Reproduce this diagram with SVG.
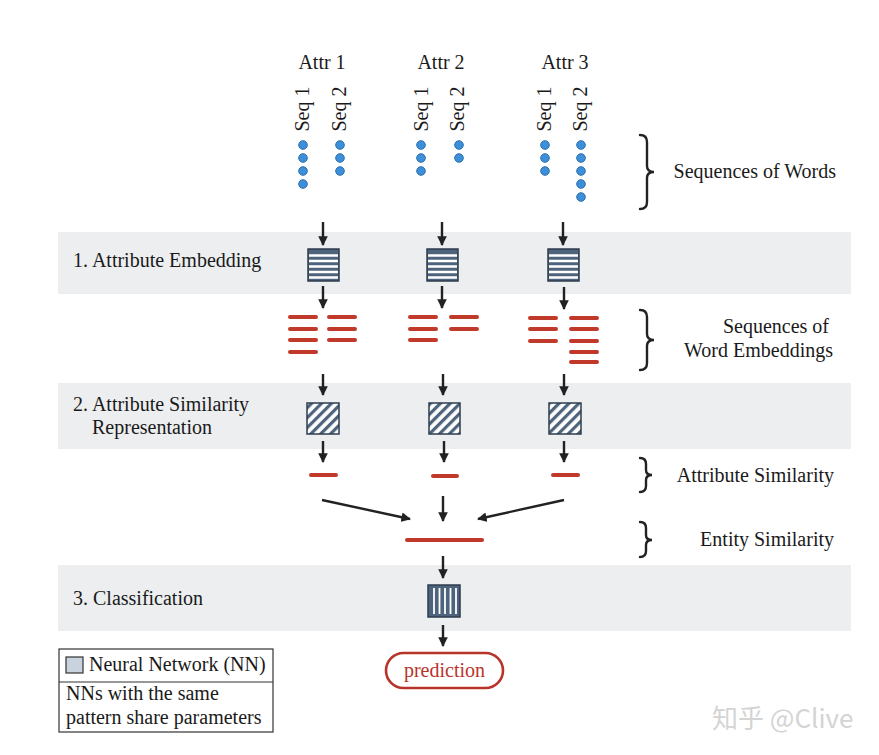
<svg xmlns="http://www.w3.org/2000/svg" width="879" height="755" viewBox="0 0 879 755">
<style>
text{font-family:"Liberation Serif","DejaVu Serif",serif;fill:#1a1a1a;font-size:20px}
.band{fill:#eceef0}
.arr{stroke:#222;stroke-width:2.4;fill:none;marker-end:url(#ah)}
.red{stroke:#c0392b;stroke-width:4;stroke-linecap:round;fill:none}
.dot{fill:#3d8fda;stroke:#2a6fb0;stroke-width:1}
.nn{fill:#4e647d;stroke:#2e3d4f;stroke-width:1.5}
.hatch{fill:url(#hp);stroke:#2e3d4f;stroke-width:1.5}
.ws{stroke:#fff;stroke-width:2.4}
.brace{stroke:#222;stroke-width:2.4;fill:none;stroke-linecap:round}
</style>
<defs>
<marker id="ah" viewBox="0 0 10 10" refX="9" refY="5" markerWidth="4" markerHeight="4" orient="auto" markerUnits="strokeWidth">
<path d="M0,0 L10,5 L0,10 z" fill="#222"/>
</marker>
<pattern id="hp" patternUnits="userSpaceOnUse" width="7" height="7" patternTransform="rotate(45)">
<rect width="7" height="7" fill="#fff"/>
<rect width="3.2" height="7" fill="#4e647d"/>
</pattern>
</defs>
<rect width="879" height="755" fill="#fff"/>
<g id="bands">
<rect class="band" x="58" y="232" width="793" height="62"/>
<rect class="band" x="58" y="383" width="793" height="66"/>
<rect class="band" x="58" y="565" width="793" height="66"/>
</g>
<g id="stage-labels">
<text x="73" y="267">1. Attribute Embedding</text>
<text x="73" y="411">2. Attribute Similarity</text>
<text x="92" y="434">Representation</text>
<text x="73" y="605">3. Classification</text>
</g>
<g id="attr-headers">
<text x="322" y="69" text-anchor="middle">Attr 1</text>
<text x="441" y="69" text-anchor="middle">Attr 2</text>
<text x="565" y="69" text-anchor="middle">Attr 3</text>
<text transform="translate(309,109) rotate(-90)" text-anchor="middle">Seq 1</text>
<text transform="translate(346,109) rotate(-90)" text-anchor="middle">Seq 2</text>
<text transform="translate(428,109) rotate(-90)" text-anchor="middle">Seq 1</text>
<text transform="translate(464,109) rotate(-90)" text-anchor="middle">Seq 2</text>
<text transform="translate(551,109) rotate(-90)" text-anchor="middle">Seq 1</text>
<text transform="translate(587,109) rotate(-90)" text-anchor="middle">Seq 2</text>
</g>
<g id="words">
<circle class="dot" cx="303" cy="145" r="4.3"/><circle class="dot" cx="303" cy="158" r="4.3"/><circle class="dot" cx="303" cy="171" r="4.3"/><circle class="dot" cx="303" cy="184" r="4.3"/>
<circle class="dot" cx="340" cy="145" r="4.3"/><circle class="dot" cx="340" cy="158" r="4.3"/><circle class="dot" cx="340" cy="171" r="4.3"/>
<circle class="dot" cx="421" cy="145" r="4.3"/><circle class="dot" cx="421" cy="158" r="4.3"/><circle class="dot" cx="421" cy="171" r="4.3"/>
<circle class="dot" cx="459" cy="145" r="4.3"/><circle class="dot" cx="459" cy="158" r="4.3"/>
<circle class="dot" cx="545" cy="145" r="4.3"/><circle class="dot" cx="545" cy="158" r="4.3"/><circle class="dot" cx="545" cy="171" r="4.3"/>
<circle class="dot" cx="581" cy="145" r="4.3"/><circle class="dot" cx="581" cy="158" r="4.3"/><circle class="dot" cx="581" cy="171" r="4.3"/><circle class="dot" cx="581" cy="184" r="4.3"/><circle class="dot" cx="581" cy="197" r="4.3"/>
</g>
<g id="embed-nn">
<g id="nn-embed-1"><rect class="nn" x="308" y="249" width="31" height="32"/><path class="ws" d="M309,255.5H338M309,261H338M309,266.5H338M309,272H338M309,277.5H338"/></g>
<g id="nn-embed-2"><rect class="nn" x="427" y="249" width="31" height="32"/><path class="ws" d="M428,255.5H457M428,261H457M428,266.5H457M428,272H457M428,277.5H457"/></g>
<g id="nn-embed-3"><rect class="nn" x="548" y="249" width="31" height="32"/><path class="ws" d="M549,255.5H578M549,261H578M549,266.5H578M549,272H578M549,277.5H578"/></g>
</g>
<g id="word-embeddings">
<path class="red" d="M290,317H316M290,329H316M290,340H316M290,352H316M329,317H355M329,329H355M329,340H355"/>
<path class="red" d="M410,317H436M410,329H436M410,340H436M451,317H477M451,329H477"/>
<path class="red" d="M530,318H556M530,329H556M530,341H556M571,318H597M571,329H597M571,341H597M571,352H597M571,362H597"/>
</g>
<g id="sim-nn">
<rect id="nn-sim-1" class="hatch" x="307" y="403" width="32" height="31"/>
<rect id="nn-sim-2" class="hatch" x="429" y="403" width="31" height="31"/>
<rect id="nn-sim-3" class="hatch" x="549" y="403" width="32" height="31"/>
</g>
<g id="attr-sim">
<path class="red" d="M311,475H336M433,476H457M553,475H578"/>
</g>
<g id="entity-sim">
<path class="red" d="M407,540H482"/>
</g>
<g id="classifier">
<rect class="nn" x="428" y="585" width="32" height="32"/>
<path class="ws" style="stroke-width:1.8" d="M434,588V614M439.5,588V614M445,588V614M450.5,588V614M456,588V614"/>
</g>
<g id="prediction">
<rect x="386" y="653" width="117" height="35" rx="17.5" fill="#fff" stroke="#b8342b" stroke-width="2.6"/>
<text x="444.5" y="677" text-anchor="middle" style="fill:#b8342b">prediction</text>
</g>
<g id="connectors">
<line class="arr" x1="323" y1="222" x2="323" y2="245"/>
<line class="arr" x1="442" y1="222" x2="442" y2="245"/>
<line class="arr" x1="563" y1="222" x2="563" y2="245"/>
<line class="arr" x1="323" y1="286" x2="323" y2="308"/>
<line class="arr" x1="442" y1="286" x2="442" y2="308"/>
<line class="arr" x1="564" y1="287" x2="564" y2="309"/>
<line class="arr" x1="323" y1="374" x2="323" y2="395"/>
<line class="arr" x1="443" y1="374" x2="443" y2="395"/>
<line class="arr" x1="564" y1="374" x2="564" y2="395"/>
<line class="arr" x1="323" y1="441" x2="323" y2="462"/>
<line class="arr" x1="444" y1="441" x2="444" y2="462"/>
<line class="arr" x1="564" y1="441" x2="564" y2="462"/>
<line class="arr" x1="322" y1="500" x2="410" y2="519"/>
<line class="arr" x1="443" y1="496" x2="443" y2="521"/>
<line class="arr" x1="564" y1="500" x2="478" y2="519"/>
<line class="arr" x1="443" y1="556" x2="443" y2="578"/>
<line class="arr" x1="443" y1="625" x2="443" y2="646"/>
</g>
<g id="annotations">
<path class="brace" d="M640,135 Q647,135 647,142 L647,166 Q647,172 654,172 Q647,172 647,178 L647,202 Q647,209 640,209"/>
<text x="836" y="178" text-anchor="end">Sequences of Words</text>
<path class="brace" d="M640,310 Q647,310 647,317 L647,334 Q647,340 654,340 Q647,340 647,346 L647,363 Q647,370 640,370"/>
<text x="829" y="333" text-anchor="end">Sequences of</text>
<text x="833" y="357" text-anchor="end">Word Embeddings</text>
<path class="brace" d="M640,458 Q646,458 646,464 L646,470 Q646,475 652,475 Q646,475 646,480 L646,486 Q646,492 640,492"/>
<text x="834" y="482" text-anchor="end">Attribute Similarity</text>
<path class="brace" d="M640,522 Q646,522 646,528 L646,535 Q646,540 652,540 Q646,540 646,545 L646,551 Q646,557 640,557"/>
<text x="834" y="546" text-anchor="end">Entity Similarity</text>
</g>
<g id="legend">
<rect x="59" y="649" width="214" height="83" fill="#fff" stroke="#333" stroke-width="1.2"/>
<line x1="59" y1="682" x2="273" y2="682" stroke="#333" stroke-width="1.2"/>
<rect x="66" y="657" width="17" height="16" fill="#c9d3de" stroke="#333" stroke-width="1.2"/>
<text x="89" y="671">Neural Network (NN)</text>
<text x="66" y="700">NNs with the same</text>
<text x="66" y="724">pattern share parameters</text>
</g>
<text x="712" y="728" style="font-family:'Noto Sans CJK SC','Liberation Sans',sans-serif;font-size:26px;fill:#d4d4d4">知乎 @Clive</text>
</svg>
